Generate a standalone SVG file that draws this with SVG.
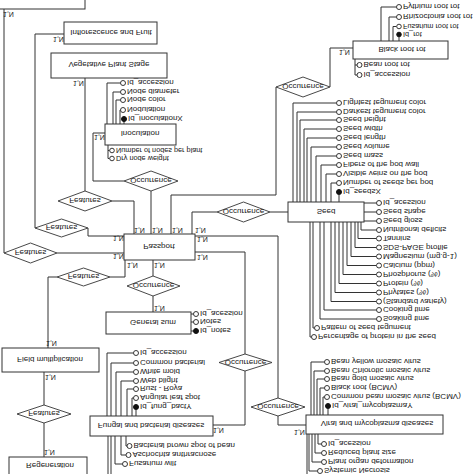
<svg xmlns="http://www.w3.org/2000/svg" width="474" height="474" viewBox="0 0 474 474">
<style>
rect.e{fill:#fff;stroke:#333;stroke-width:1}
polygon.d{fill:#fff;stroke:#333;stroke-width:0.9}
#connectors path{fill:none;stroke:#333;stroke-width:1}
circle.a{fill:#fff;stroke:#222;stroke-width:0.9}
circle.k{fill:#111;stroke:#111}
text{font-family:"Liberation Sans",Arial,sans-serif;font-size:8px;fill:#161616}
.m{text-anchor:middle}
.n{font-size:7px}
.s{font-size:7.3px}
</style>
<rect width="474" height="474" fill="#fff"/>
<g id="connectors">
<path d="M4,9 V253 M57,253 H124 M64,34 H35 V228 M88,228 V236 H124 M85,78 V191 M112,201 H134 V234 M105,133 H93 V181 H124 M151,191 V234 M353,48 H330 V87 M276,87 V195 H171 V234 M288,212 H270 M217,212 H192 V234 M195,236 H278 V398 M278,416 V425 H306 M195,252 H245 V354 M245,371 V425 H213 M153,260 V276 M153,296 V312 M125,260 V277 H110 M57,277 H48 V348 M44,372 V405 M44,423 V457"/>
<path d="M107,124 V83 H120.5 M113,124 V92 H120.5 M116,124 V100 H120.5 M120,124 V110 H120.5 M124,124 V121 M108,145 V158.5 H109.5 M108,150.5 H109.5"/>
<path d="M381,41 V7 H396.5 M389,41 V17 H396.5 M393,41 V26.5 H396.5 M399,41 V37 M355,59 V75 H357 M355,65 H357"/>
<path d="M293,202 V103 H336.5 M297,202 V112 H336.5 M300,202 V120 H336.5 M304,202 V129 H336.5 M307,202 V138 H336.5 M311,202 V147 H336.5 M316,202 V156 H336.5 M321,202 V165 H336.5 M326,202 V174 H336.5 M331,202 V183 H336.5 M339,202 V195"/>
<path d="M364,203 H376.5 M364,212 H376.5 M364,221 H376.5 M361,222 V230 H376.5 M358,222 V238.5 H376.5 M355,222 V247.5 H376.5 M351,222 V256.5 H376.5 M347,222 V265.5 H376.5 M343,222 V274.5 H376.5 M339,222 V283.5 H376.5 M335,222 V292.5 H376.5 M331,222 V301.5 H376.5 M324,222 V310 H376.5 M320,222 V319 H376.5 M313,222 V328 H314.5 M310,222 V337 H311.5"/>
<path d="M191,314 H193.5 M191,322 H193.5 M191,331 H193.5"/>
<path d="M107,416 V353 H133.5 M111,416 V363 H133.5 M116,416 V372 H133.5 M121,416 V381 H133.5 M127,416 V389 H133.5 M132,416 V398 H133.5 M136,416 V410 M126,436 V446 H127 M121,436 V455 H126 M115,436 V464 H122.5 M108,436 V474 M111,436 V474"/>
<path d="M311,415 V362 H324.5 M314,415 V371 H324.5 M317,415 V379 H324.5 M320,415 V388 H324.5 M323,415 V397 H324.5 M328,415 V409 M318,434 V444 H321.5 M315,434 V453 H321.5 M312,434 V462 H321.5 M309,434 V471 H317.5 M307,434 V474"/>
<g transform="scale(1,-1)">
<text class="n" x="3" y="-11.5">1,N</text>
<text class="n" x="53" y="-36.5">1,N</text>
<text class="n" x="73" y="-80.5">1,N</text>
<text class="n" x="94" y="-134.5">1,N</text>
<text class="n" x="339" y="-49.5">1,N</text>
<text class="n" x="134" y="-227.5">1,N</text>
<text class="n" x="152" y="-227.5">1,N</text>
<text class="n" x="172" y="-227.5">1,N</text>
<text class="n" x="195" y="-227.5">1,N</text>
<text class="n" x="113" y="-236">1,N</text>
<text class="n" x="113" y="-254">1,N</text>
<text class="n" x="197" y="-237">1,N</text>
<text class="n" x="197" y="-255">1,N</text>
<text class="n" x="127" y="-262.5">1,N</text>
<text class="n" x="154" y="-262.5">1,N</text>
<text class="n" x="154" y="-305.5">1,N</text>
<text class="n" x="46" y="-340.5">1,N</text>
<text class="n" x="45" y="-374.5">1,N</text>
<text class="n" x="44" y="-449.5">1,N</text>
<text class="n" x="213" y="-427.5">1,N</text>
<text class="n" x="294" y="-429.5">1,N</text>
</g>
</g>
<g id="d1"><polygon class="d" points="4,253 30.5,243 57,253 30.5,263"/><g transform="scale(1,-1)"><text class="m" x="30.5" y="-250.2">Features</text></g></g>
<g id="d2"><polygon class="d" points="35,228 61.5,219 88,228 61.5,237"/><g transform="scale(1,-1)"><text class="m" x="61.5" y="-225.2">Features</text></g></g>
<g id="d3"><polygon class="d" points="58,201 85,191 112,201 85,211"/><g transform="scale(1,-1)"><text class="m" x="85" y="-198.2">Features</text></g></g>
<g id="d4"><polygon class="d" points="124,181 151,171 178,181 151,191"/><g transform="scale(1,-1)"><text class="m" x="151" y="-178.2">Occurrence</text></g></g>
<g id="d5"><polygon class="d" points="276,87 303,77 330,87 303,97"/><g transform="scale(1,-1)"><text class="m" x="303" y="-84.2">Occurrence</text></g></g>
<g id="d6"><polygon class="d" points="217,212 243.5,202 270,212 243.5,222"/><g transform="scale(1,-1)"><text class="m" x="243.5" y="-209.2">Occurrence</text></g></g>
<g id="d7"><polygon class="d" points="251,407 278,398 305,407 278,416"/><g transform="scale(1,-1)"><text class="m" x="278" y="-404.2">Occurrence</text></g></g>
<g id="d8"><polygon class="d" points="219,362.5 245,354 272,362.5 245,371"/><g transform="scale(1,-1)"><text class="m" x="245.5" y="-359.7">Occurrence</text></g></g>
<g id="d9"><polygon class="d" points="127,286 153,276 180,286 153,296"/><g transform="scale(1,-1)"><text class="m" x="153.5" y="-283.2">Occurrence</text></g></g>
<g id="d10"><polygon class="d" points="57,277 83.5,268 110,277 83.5,286"/><g transform="scale(1,-1)"><text class="m" x="83.5" y="-274.2">Features</text></g></g>
<g id="d11"><polygon class="d" points="17,414 44,405 71,414 44,423"/><g transform="scale(1,-1)"><text class="m" x="44" y="-411.2">Features</text></g></g>
<g id="topbox"><rect class="e" x="-2" y="-10" width="87" height="19"/></g>
<g id="inflorescence"><rect class="e" x="64" y="22" width="93" height="22"/><g transform="scale(1,-1)"><text class="m" x="111" y="-30.2">Inflorescence and Fruit</text></g></g>
<g id="vegetative"><rect class="e" x="51" y="53" width="116" height="25"/><g transform="scale(1,-1)"><text class="m" x="109" y="-62.2">Vegetative Plant Stage</text></g></g>
<g id="inoculation"><rect class="e" x="105" y="124" width="71" height="21"/>
<circle class="a" cx="123" cy="83" r="2.5"/><circle class="a" cx="123" cy="92" r="2.5"/><circle class="a" cx="123" cy="100" r="2.5"/><circle class="a" cx="123" cy="110" r="2.5"/><circle class="k" cx="124" cy="119" r="2.5"/><circle class="a" cx="112" cy="150.5" r="2.3"/><circle class="a" cx="112" cy="158.5" r="2.3"/>
<g transform="scale(1,-1)"><text class="m" x="140" y="-131.2">Inoculation</text>
<text x="127" y="-80.2">Id_accession</text><text x="127" y="-89.2">Node diameter</text><text x="127" y="-97.2">Node color</text><text x="127" y="-107.2">Nodulation</text><text x="128" y="-116.2">Id_inoculationX</text><text class="s" x="116" y="-148">Number of nodes per plant</text><text class="s" x="116" y="-156">Dry node weight</text></g></g>
<g id="blackrootrot"><rect class="e" x="353" y="41" width="95" height="18"/>
<circle class="a" cx="399" cy="7" r="2.5"/><circle class="a" cx="399" cy="17" r="2.5"/><circle class="a" cx="399" cy="26.5" r="2.3"/><circle class="k" cx="399" cy="34.5" r="2.3"/><circle class="a" cx="359.5" cy="65" r="2.5"/><circle class="a" cx="359.5" cy="75" r="2.5"/>
<g transform="scale(1,-1)"><text class="m" x="402" y="-47.2">Black root rot</text>
<text x="403" y="-4.2">Pythium root rot</text><text x="403" y="-14.2">Rhizoctonia root rot</text><text class="s" x="403" y="-24">Fusarium root rot</text><text class="s" x="403" y="-32">Id_rot</text><text x="363.5" y="-62.2">Bean root rot</text><text x="363.5" y="-72.2">Id_accession</text></g></g>
<g id="passport"><rect class="e" x="124" y="234" width="71" height="26"/><g transform="scale(1,-1)"><text class="m" x="159" y="-244.2">Passport</text></g></g>
<g id="seed"><rect class="e" x="288" y="202" width="76" height="20"/>
<circle class="a" cx="339" cy="103" r="2.5"/><circle class="a" cx="339" cy="112" r="2.5"/><circle class="a" cx="339" cy="120" r="2.5"/><circle class="a" cx="339" cy="129" r="2.5"/><circle class="a" cx="339" cy="138" r="2.5"/><circle class="a" cx="339" cy="147" r="2.5"/><circle class="a" cx="339" cy="156" r="2.5"/><circle class="a" cx="339" cy="165" r="2.5"/><circle class="a" cx="339" cy="174" r="2.5"/><circle class="a" cx="339" cy="183" r="2.5"/><circle class="k" cx="339" cy="192" r="2.5"/>
<circle class="a" cx="379" cy="203" r="2.5"/><circle class="a" cx="379" cy="212" r="2.5"/><circle class="a" cx="379" cy="221" r="2.5"/><circle class="a" cx="379" cy="230" r="2.5"/><circle class="a" cx="379" cy="238.5" r="2.5"/><circle class="a" cx="379" cy="247.5" r="2.5"/><circle class="a" cx="379" cy="256.5" r="2.5"/><circle class="a" cx="379" cy="265.5" r="2.5"/><circle class="a" cx="379" cy="274.5" r="2.5"/><circle class="a" cx="379" cy="283.5" r="2.5"/><circle class="a" cx="379" cy="292.5" r="2.5"/><circle class="a" cx="379" cy="301.5" r="2.5"/><circle class="a" cx="379" cy="310" r="2.5"/><circle class="a" cx="379" cy="319" r="2.5"/><circle class="a" cx="317" cy="328" r="2.5"/><circle class="a" cx="314" cy="337" r="2.5"/>
<g transform="scale(1,-1)"><text class="m" x="326" y="-209.2">Seed</text>
<text x="343" y="-100.2">Lightest tegument color</text><text x="343" y="-109.2">Darkest tegument color</text><text x="343" y="-117.2">Seed height</text><text x="343" y="-126.2">Seed width</text><text x="343" y="-135.2">Seed length</text><text x="343" y="-144.2">Seed volume</text><text x="343" y="-153.2">Seed mass</text><text x="343" y="-162.2">Fibers of the pod wall</text><text x="343" y="-171.2">Visible veins on the pod</text><text x="343" y="-180.2">Number of seeds per pod</text><text x="343" y="-189.2">Id_seedsX</text>
<text x="383" y="-200.2">Id_acession</text><text x="383" y="-209.2">Seed shape</text><text x="383" y="-218.2">Seed gloss</text><text x="383" y="-227.2">Nutritional deficits</text><text x="383" y="-235.7">Tannins</text><text x="383" y="-244.7">SDS-PAGE  profile</text><text x="383" y="-253.7">Magnesium (mg.g-1)</text><text x="383" y="-262.7">Calcium (ppm)</text><text x="383" y="-271.7">Phosphorus (%)</text><text x="383" y="-280.7">Protein (%)</text><text x="383" y="-289.7">Phytates  (%)</text><text x="383" y="-298.7">(Standard variety)</text><text x="383" y="-307.2">Cooking time</text><text x="383" y="-316.2">Soaking time</text><text x="321" y="-325.2">Pattern of seed tegument</text><text x="318" y="-334.2">Percentage of protein in the seed</text></g></g>
<g id="generalsum"><rect class="e" x="106" y="312" width="85" height="22"/>
<circle class="a" cx="196" cy="314" r="2.5"/><circle class="a" cx="196" cy="322" r="2.5"/><circle class="k" cx="196" cy="331" r="2.5"/>
<g transform="scale(1,-1)"><text class="m" x="153" y="-320.2">General sum</text><text x="200" y="-311.2">Id_acession</text><text x="200" y="-319.2">Notes</text><text x="200" y="-328.2">Id_notes</text></g></g>
<g id="fieldmult"><rect class="e" x="2" y="348" width="97" height="24"/><g transform="scale(1,-1)"><text class="m" x="50" y="-357.2">Field multiplication</text></g></g>
<g id="regeneration"><rect class="e" x="9" y="457" width="78" height="24"/><g transform="scale(1,-1)"><text class="m" x="50" y="-463.2">Regeneration</text></g></g>
<g id="fungal"><rect class="e" x="90" y="416" width="123" height="20"/>
<circle class="a" cx="136" cy="353" r="2.5"/><circle class="a" cx="136" cy="363" r="2.5"/><circle class="a" cx="136" cy="372" r="2.5"/><circle class="a" cx="136" cy="381" r="2.5"/><circle class="a" cx="136" cy="389" r="2.5"/><circle class="a" cx="136" cy="398" r="2.5"/><circle class="k" cx="136" cy="407" r="2.5"/><circle class="a" cx="129.5" cy="446" r="2.5"/><circle class="a" cx="128.5" cy="455" r="2.5"/><circle class="a" cx="125" cy="464" r="2.5"/>
<g transform="scale(1,-1)"><text class="m" x="151" y="-423.2">Fungal and bacterial diseases</text>
<text x="140" y="-350.2">Id_accession</text><text x="140" y="-360.2">Common bacterial</text><text x="140" y="-369.2">White mold</text><text x="140" y="-378.2">Web blight</text><text x="140" y="-386.2">Rust - Roya</text><text x="140" y="-395.2">Angular leaf spot</text><text x="140" y="-404.2">Id_fung_bactY</text><text x="133.5" y="-443.2">Bacterial brown spot of bean</text><text x="132.5" y="-452.2">Aschochta anthracnose</text><text x="129" y="-461.2">Fusarium wilt</text></g></g>
<g id="viral"><rect class="e" x="306" y="415" width="137" height="19"/>
<circle class="a" cx="327" cy="362" r="2.5"/><circle class="a" cx="327" cy="371" r="2.5"/><circle class="a" cx="327" cy="379" r="2.5"/><circle class="a" cx="327" cy="388" r="2.5"/><circle class="a" cx="327" cy="397" r="2.5"/><circle class="k" cx="328" cy="406" r="2.5"/><circle class="a" cx="324" cy="444" r="2.5"/><circle class="a" cx="324" cy="453" r="2.5"/><circle class="a" cx="324" cy="462" r="2.5"/><circle class="a" cx="320" cy="471" r="2.5"/>
<g transform="scale(1,-1)"><text class="m" x="377" y="-421.2">Viral and mycoplasma diseases</text>
<text x="331" y="-359.2">Bean yellow  mosaic virus</text><text x="331" y="-368.2">Bean Chlorotic mosaic virus</text><text x="331" y="-376.2">Bean gold  mosaic virus</text><text x="331" y="-385.2">Black root (BCMV)</text><text x="331" y="-394.2">Common bean mosaic virus (BCMV)</text><text x="332" y="-403.2">Id_viral_mycoplasmaY</text><text x="328" y="-441.2">Id_acession</text><text x="328" y="-450.2">Reduced plant size</text><text x="328" y="-459.2">Plant organ deformation</text><text x="324" y="-468.2">Systemic Necrosis</text></g></g>
</svg>
